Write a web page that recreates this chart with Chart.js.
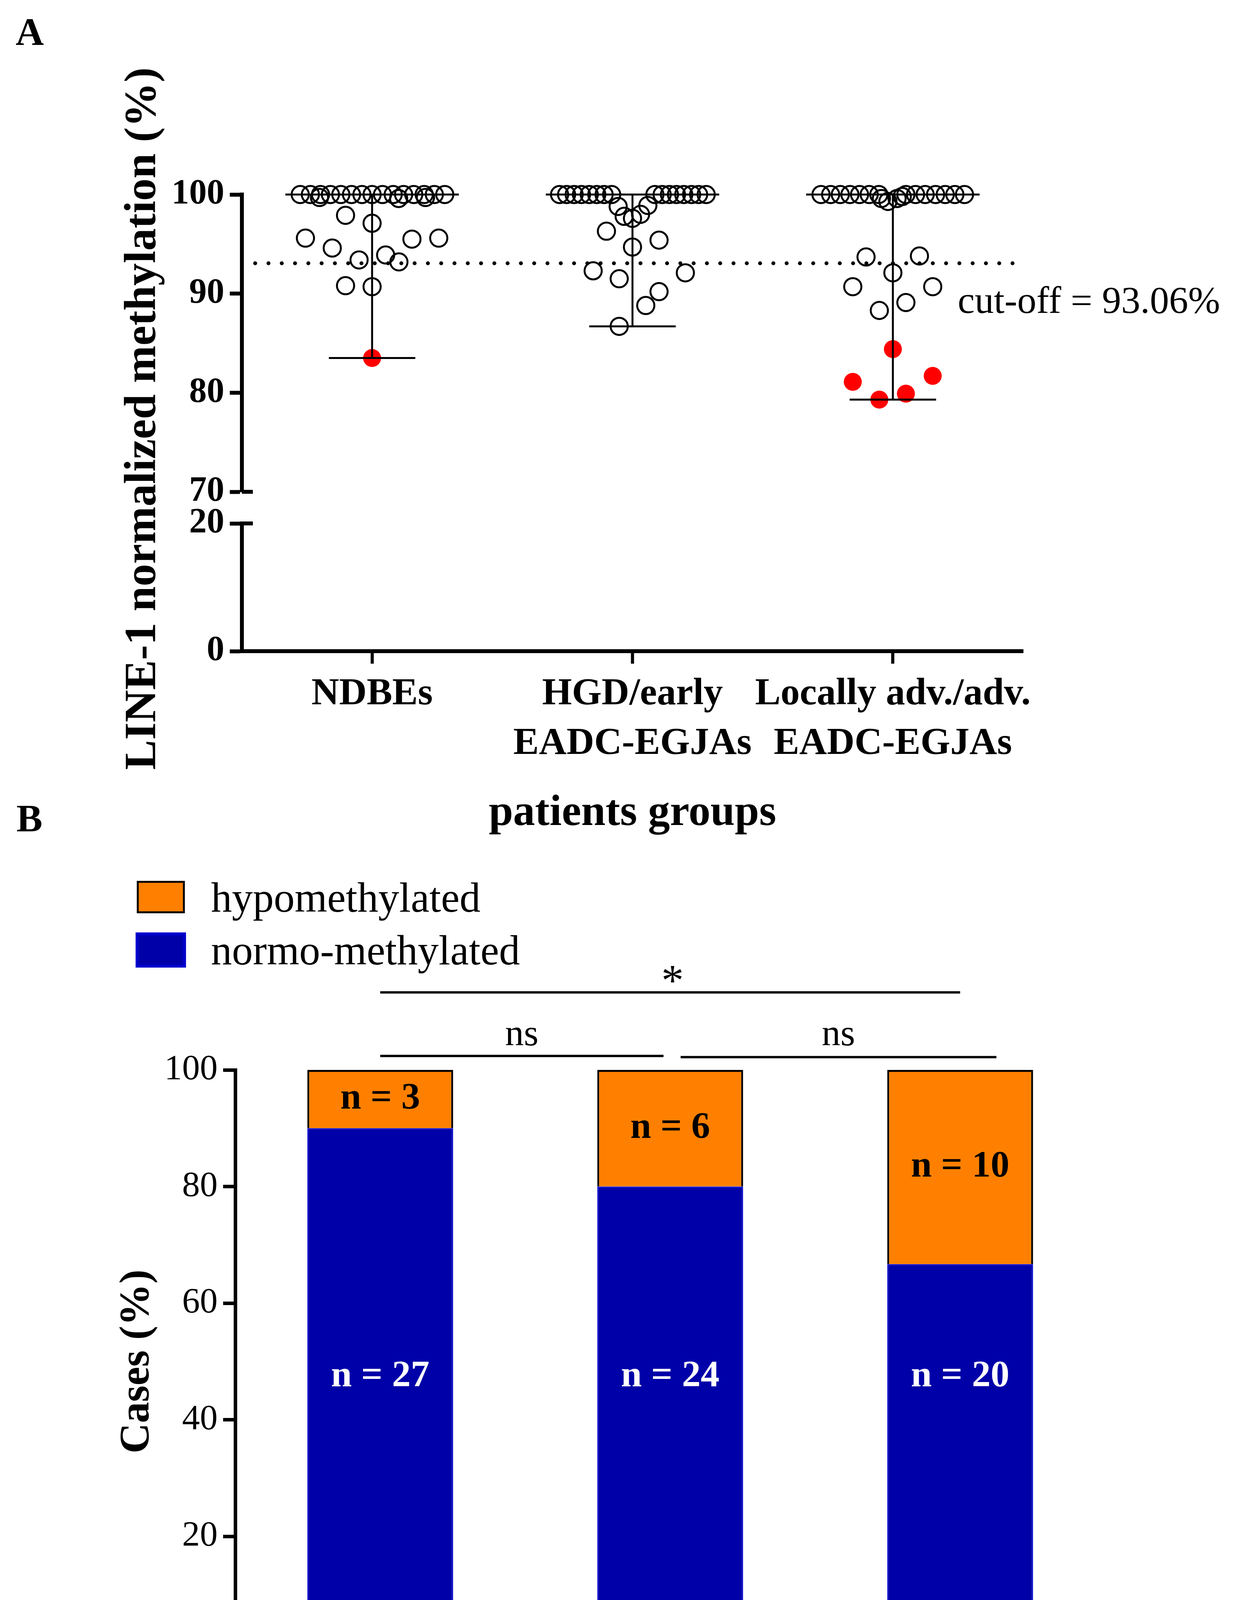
<!DOCTYPE html>
<html>
<head>
<meta charset="utf-8">
<script src="https://cdn.jsdelivr.net/npm/chart.js@4.4.1/dist/chart.umd.min.js"></script>
<style>
  html, body { margin: 0; padding: 0; background: #fff; }
  #wrap { position: relative; width: 3168px; height: 4744px; }
  canvas { position: absolute; left: 0; top: 0; }
</style>
</head>
<body>
<div id="wrap">
  <canvas id="panelA" width="3168" height="4744"></canvas>
  <canvas id="panelB" width="3168" height="4744"></canvas>
</div>
<script>
// ---- shared
var groupLabels = ['NDBEs', ['HGD/early', 'EADC-EGJAs'], ['Locally adv./adv.', 'EADC-EGJAs']];

// ---- panel A : LINE-1 normalized methylation (%) per sample
// jitter = horizontal offset of the dot inside its group (in group widths)
var ndbeValues = [100, 100, 100, 100, 100, 100, 100, 100, 100, 100, 100, 100, 100, 100, 100,
  99.7, 99.6, 99.7, 97.9, 97.1, 95.6, 94.6, 95.5, 95.6, 93.4, 93.9, 93.2, 90.8, 90.7];
var ndbeJitter = [-0.276, -0.237, -0.198, -0.160, -0.120, -0.079, -0.039, 0, 0.040, 0.081, 0.121, 0.160, 0.200, 0.239, 0.279,
  -0.202, 0.102, 0.205, -0.102, 0, -0.256, -0.153, 0.153, 0.256, -0.050, 0.052, 0.103, -0.102, 0];
var ndbeHypo = [83.5];
var ndbeHypoJitter = [0];

var hgdValues = [100, 100, 100, 100, 100, 100, 100, 100, 100, 100, 100, 100, 100, 100, 100, 100,
  98.8, 98.9, 97.8, 98.0, 97.6, 96.3, 95.4, 94.7, 92.3, 92.1, 91.5, 90.2, 88.8, 86.7];
var hgdJitter = [-0.280, -0.253, -0.224, -0.196, -0.166, -0.137, -0.109, -0.080,
  0.086, 0.114, 0.142, 0.169, 0.197, 0.227, 0.254, 0.283,
  -0.055, 0.059, -0.032, 0.031, 0, -0.100, 0.102, 0, -0.151, 0.203, -0.051, 0.102, 0.051, -0.051];
var hgdHypo = [];
var hgdHypoJitter = [];

var advValues = [100, 100, 100, 100, 100, 100, 100, 100, 100, 100, 100, 100, 100, 100,
  99.3, 99.6, 99.6, 99.8, 93.7, 93.8, 92.1, 90.7, 90.7, 89.1, 88.3];
var advJitter = [-0.276, -0.239, -0.202, -0.165, -0.128, -0.091, -0.054,
  0.050, 0.087, 0.124, 0.164, 0.201, 0.238, 0.275,
  -0.019, 0.016, -0.044, 0.036, -0.103, 0.102, 0, -0.154, 0.153, 0.050, -0.052];
var advHypo = [84.4, 81.1, 81.7, 79.3, 79.9];
var advHypoJitter = [0, -0.154, 0.153, -0.052, 0.050];

var medians = [100, 100, 100];
var minimums = [83.5, 86.7, 79.3];
var cutOff = 93.06;
var yTicksTop = [70, 80, 90, 100];
var yTicksBottom = [0, 20];

// ---- panel B : cases (%)
var normoPct = [90, 80, 66.7];
var hypoPct = [10, 20, 33.3];
var normoN = [27, 24, 20];
var hypoN = [3, 6, 10];
var yTicksB = [0, 20, 40, 60, 80, 100];

var SERIF = '"Liberation Serif", "Times New Roman", serif';
Chart.defaults.font.family = SERIF;
Chart.defaults.color = '#000';

function toPoints(group, values, jitter) {
  return values.map(function (v, i) {
    return { x: group + 1 + jitter[i], y: v };
  });
}

var openPoints = [].concat(
  toPoints(0, ndbeValues, ndbeJitter),
  toPoints(1, hgdValues, hgdJitter),
  toPoints(2, advValues, advJitter)
);
var redPoints = [].concat(
  toPoints(0, ndbeHypo, ndbeHypoJitter),
  toPoints(1, hgdHypo, hgdHypoJitter),
  toPoints(2, advHypo, advHypoJitter)
);

var panelAExtras = {
  id: 'panelAExtras',
  beforeDatasetsDraw: function (chart) {
    var ctx = chart.ctx, area = chart.chartArea, y = chart.scales.yTop;
    var py = y.getPixelForValue(cutOff);
    ctx.save();
    ctx.strokeStyle = '#000';
    ctx.lineWidth = 10;
    ctx.lineCap = 'round';
    ctx.setLineDash([0, 34]);
    ctx.beginPath();
    ctx.moveTo(area.left + 34, py);
    ctx.lineTo(area.right, py);
    ctx.stroke();
    ctx.restore();
  },
  afterDatasetsDraw: function (chart) {
    var ctx = chart.ctx, x = chart.scales.x, y = chart.scales.yTop;
    var wide = x.getPixelForValue(1.333) - x.getPixelForValue(1);
    var narrow = x.getPixelForValue(1.166) - x.getPixelForValue(1);
    ctx.save();
    ctx.strokeStyle = '#000';
    ctx.lineWidth = 5;
    medians.forEach(function (m, i) {
      var cx = x.getPixelForValue(i + 1);
      var pm = y.getPixelForValue(m);
      var pmin = y.getPixelForValue(minimums[i]);
      ctx.beginPath();
      ctx.moveTo(cx - wide, pm); ctx.lineTo(cx + wide, pm);
      ctx.moveTo(cx, pm); ctx.lineTo(cx, pmin);
      ctx.moveTo(cx - narrow, pmin); ctx.lineTo(cx + narrow, pmin);
      ctx.stroke();
    });
    ctx.restore();
  },
  afterDraw: function (chart) {
    var ctx = chart.ctx, area = chart.chartArea, x = chart.scales.x;
    var yTop = chart.scales.yTop, yBot = chart.scales.yBot;
    ctx.save();
    // axis break marks
    ctx.strokeStyle = '#000';
    ctx.lineWidth = 10;
    ctx.beginPath();
    ctx.moveTo(area.left, yTop.getPixelForValue(70)); ctx.lineTo(area.left + 28, yTop.getPixelForValue(70));
    ctx.moveTo(area.left, yBot.getPixelForValue(20)); ctx.lineTo(area.left + 28, yBot.getPixelForValue(20));
    ctx.stroke();

    ctx.fillStyle = '#000';
    // cut-off label
    ctx.font = '98px ' + SERIF;
    ctx.textAlign = 'left';
    ctx.textBaseline = 'alphabetic';
    ctx.fillText('cut-off = 93.06%', x.getPixelForValue(3.249), yTop.getPixelForValue(88.06));

    // panel letter
    ctx.font = 'bold 100px ' + SERIF;
    ctx.fillText('A', 40, 115);

    // y title spanning both axis segments
    ctx.font = 'bold 115px ' + SERIF;
    ctx.translate(367, (area.top + area.bottom) / 2 - 11);
    ctx.rotate(-Math.PI / 2);
    ctx.textAlign = 'center';
    ctx.textBaseline = 'middle';
    ctx.fillText('LINE-1 normalized methylation (%)', 0, 0);
    ctx.restore();
  }
};

var yTickOptsA = { font: { size: 90, weight: 'bold' }, color: '#000', padding: 14 };
var yGridA = { drawOnChartArea: false, drawTicks: true, tickLength: 31, tickWidth: 10, tickColor: '#000' };
var yBorderA = { display: true, width: 10, color: '#000' };

new Chart(document.getElementById('panelA'), {
  type: 'scatter',
  data: {
    datasets: [{
      label: 'normo-methylated',
      data: openPoints,
      yAxisID: 'yTop',
      pointStyle: 'circle',
      pointRadius: 22,
      pointBorderWidth: 5,
      pointBorderColor: '#000',
      pointBackgroundColor: 'rgba(0,0,0,0)',
      clip: false
    }, {
      label: 'hypomethylated',
      data: redPoints,
      yAxisID: 'yTop',
      pointStyle: 'circle',
      pointRadius: 23,
      pointBorderWidth: 0,
      pointBackgroundColor: '#ff0000',
      clip: false
    }]
  },
  options: {
    responsive: false,
    animation: false,
    devicePixelRatio: 1,
    layout: { autoPadding: false, padding: { top: 498, right: 550, bottom: 2584, left: 0 } },
    plugins: { legend: { display: false }, tooltip: { enabled: false } },
    scales: {
      x: {
        type: 'linear',
        position: 'bottom',
        min: 0.5,
        max: 3.5,
        afterBuildTicks: function (s) { s.ticks = [1, 2, 3].map(function (v) { return { value: v }; }); },
        afterFit: function (s) { s.height = 493; },
        ticks: {
          autoSkip: false,
          maxRotation: 0,
          padding: 15,
          color: '#000',
          font: { size: 98, weight: 'bold', lineHeight: 1.3 },
          callback: function (value) { return groupLabels[value - 1]; }
        },
        grid: { drawOnChartArea: false, drawTicks: true, tickLength: 32, tickWidth: 8, tickColor: '#000' },
        border: { display: true, width: 10, color: '#000' },
        title: {
          display: true,
          text: 'patients groups',
          color: '#000',
          font: { size: 112, weight: 'bold' },
          padding: { top: 0, bottom: 10 }
        }
      },
      yBot: {
        type: 'linear',
        position: 'left',
        stack: 'methylation',
        stackWeight: 327,
        min: 0,
        max: 20,
        afterBuildTicks: function (s) { s.ticks = yTicksBottom.map(function (v) { return { value: v }; }); },
        afterFit: function (s) { s.width = 619; },
        ticks: yTickOptsA,
        grid: yGridA,
        border: yBorderA
      },
      yGap: {
        type: 'linear',
        position: 'left',
        stack: 'methylation',
        stackWeight: 81,
        display: false,
        afterFit: function (s) { s.width = 619; }
      },
      yTop: {
        type: 'linear',
        position: 'left',
        stack: 'methylation',
        stackWeight: 761,
        min: 70,
        max: 100,
        afterBuildTicks: function (s) { s.ticks = yTicksTop.map(function (v) { return { value: v }; }); },
        afterFit: function (s) { s.width = 619; },
        ticks: yTickOptsA,
        grid: yGridA,
        border: yBorderA
      }
    }
  },
  plugins: [panelAExtras]
});

var panelBExtras = {
  id: 'panelBExtras',
  afterDraw: function (chart) {
    var ctx = chart.ctx, x = chart.scales.x, y = chart.scales.y;
    var ds = chart.data.datasets;
    ctx.save();
    ctx.fillStyle = '#000';

    // panel letter
    ctx.font = 'bold 100px ' + SERIF;
    ctx.textAlign = 'left';
    ctx.textBaseline = 'alphabetic';
    ctx.fillText('B', 42, 2128);

    // legend (hypomethylated first)
    ctx.fillStyle = ds[1].backgroundColor;
    ctx.fillRect(350, 2255, 123, 83);
    ctx.strokeStyle = ds[1].borderColor;
    ctx.lineWidth = 5;
    ctx.strokeRect(352.5, 2257.5, 118, 78);
    ctx.fillStyle = ds[0].backgroundColor;
    ctx.fillRect(347, 2387, 129, 90);
    ctx.strokeStyle = ds[0].borderColor;
    ctx.lineWidth = 8;
    ctx.strokeRect(351, 2391, 121, 82);
    ctx.fillStyle = '#000';
    ctx.font = '107px ' + SERIF;
    ctx.fillText(ds[1].label, 540, 2334);
    ctx.fillText(ds[0].label, 540, 2469);

    // significance brackets
    var brackets = [
      { from: 0, to: 2, y: 113.3, text: '*', tx: 1.008, ty: 112.8, size: 115 },
      { from: 0, to: 0.977, y: 102.4, text: 'ns', tx: 0.488, ty: 104.2, size: 96 },
      { from: 1.036, to: 2.125, y: 102.2, text: 'ns', tx: 1.58, ty: 104.2, size: 96 }
    ];
    ctx.strokeStyle = '#000';
    ctx.lineWidth = 6;
    ctx.textAlign = 'center';
    brackets.forEach(function (b) {
      var py = y.getPixelForValue(b.y);
      ctx.beginPath();
      ctx.moveTo(x.getPixelForValue(b.from), py);
      ctx.lineTo(x.getPixelForValue(b.to), py);
      ctx.stroke();
      ctx.font = b.size + 'px ' + SERIF;
      ctx.fillText(b.text, x.getPixelForValue(b.tx), y.getPixelForValue(b.ty));
    });

    // n labels
    ctx.font = 'bold 96px ' + SERIF;
    ctx.textBaseline = 'middle';
    hypoN.forEach(function (n, i) {
      ctx.fillStyle = '#000';
      ctx.fillText('n = ' + n, x.getPixelForValue(i), y.getPixelForValue(normoPct[i] + hypoPct[i] / 2));
    });
    normoN.forEach(function (n, i) {
      ctx.fillStyle = '#fff';
      ctx.fillText('n = ' + n, x.getPixelForValue(i), y.getPixelForValue(47.4));
    });
    ctx.restore();
  }
};

new Chart(document.getElementById('panelB'), {
  type: 'bar',
  data: {
    labels: groupLabels,
    datasets: [{
      label: 'normo-methylated',
      data: normoPct,
      backgroundColor: '#0000a8',
      borderColor: '#0000cc',
      borderWidth: 3
    }, {
      label: 'hypomethylated',
      data: hypoPct,
      backgroundColor: '#ff8000',
      borderColor: '#000',
      borderWidth: 5
    }]
  },
  options: {
    responsive: false,
    animation: false,
    devicePixelRatio: 1,
    layout: { autoPadding: false, padding: { top: 2739, right: 340, bottom: 0, left: 0 } },
    datasets: { bar: { categoryPercentage: 1, barPercentage: 0.503 } },
    plugins: { legend: { display: false }, tooltip: { enabled: false } },
    scales: {
      x: {
        stacked: true,
        afterFit: function (s) { s.height = 512; },
        ticks: {
          autoSkip: false,
          maxRotation: 0,
          padding: 56,
          color: '#000',
          font: { size: 95, weight: 'bold', lineHeight: 1.33 }
        },
        grid: { offset: false, drawOnChartArea: false, drawTicks: true, tickLength: 33, tickWidth: 8, tickColor: '#000' },
        border: { display: true, width: 10, color: '#000' },
        title: {
          display: true,
          text: 'Patients groups',
          color: '#000',
          font: { size: 112, weight: 'bold' },
          padding: { top: 0, bottom: 30 }
        }
      },
      y: {
        stacked: true,
        min: 0,
        max: 100,
        afterBuildTicks: function (s) { s.ticks = yTicksB.map(function (v) { return { value: v }; }); },
        afterFit: function (s) { s.width = 602; },
        ticks: { font: { size: 91 }, color: '#000', padding: 14 },
        grid: { drawOnChartArea: false, drawTicks: true, tickLength: 31, tickWidth: 9, tickColor: '#000' },
        border: { display: true, width: 9, color: '#000' },
        title: {
          display: true,
          text: 'Cases (%)',
          color: '#000',
          font: { size: 108, weight: 'bold' },
          padding: { top: 287, bottom: 0 }
        }
      }
    }
  },
  plugins: [panelBExtras]
});
</script>
</body>
</html>
